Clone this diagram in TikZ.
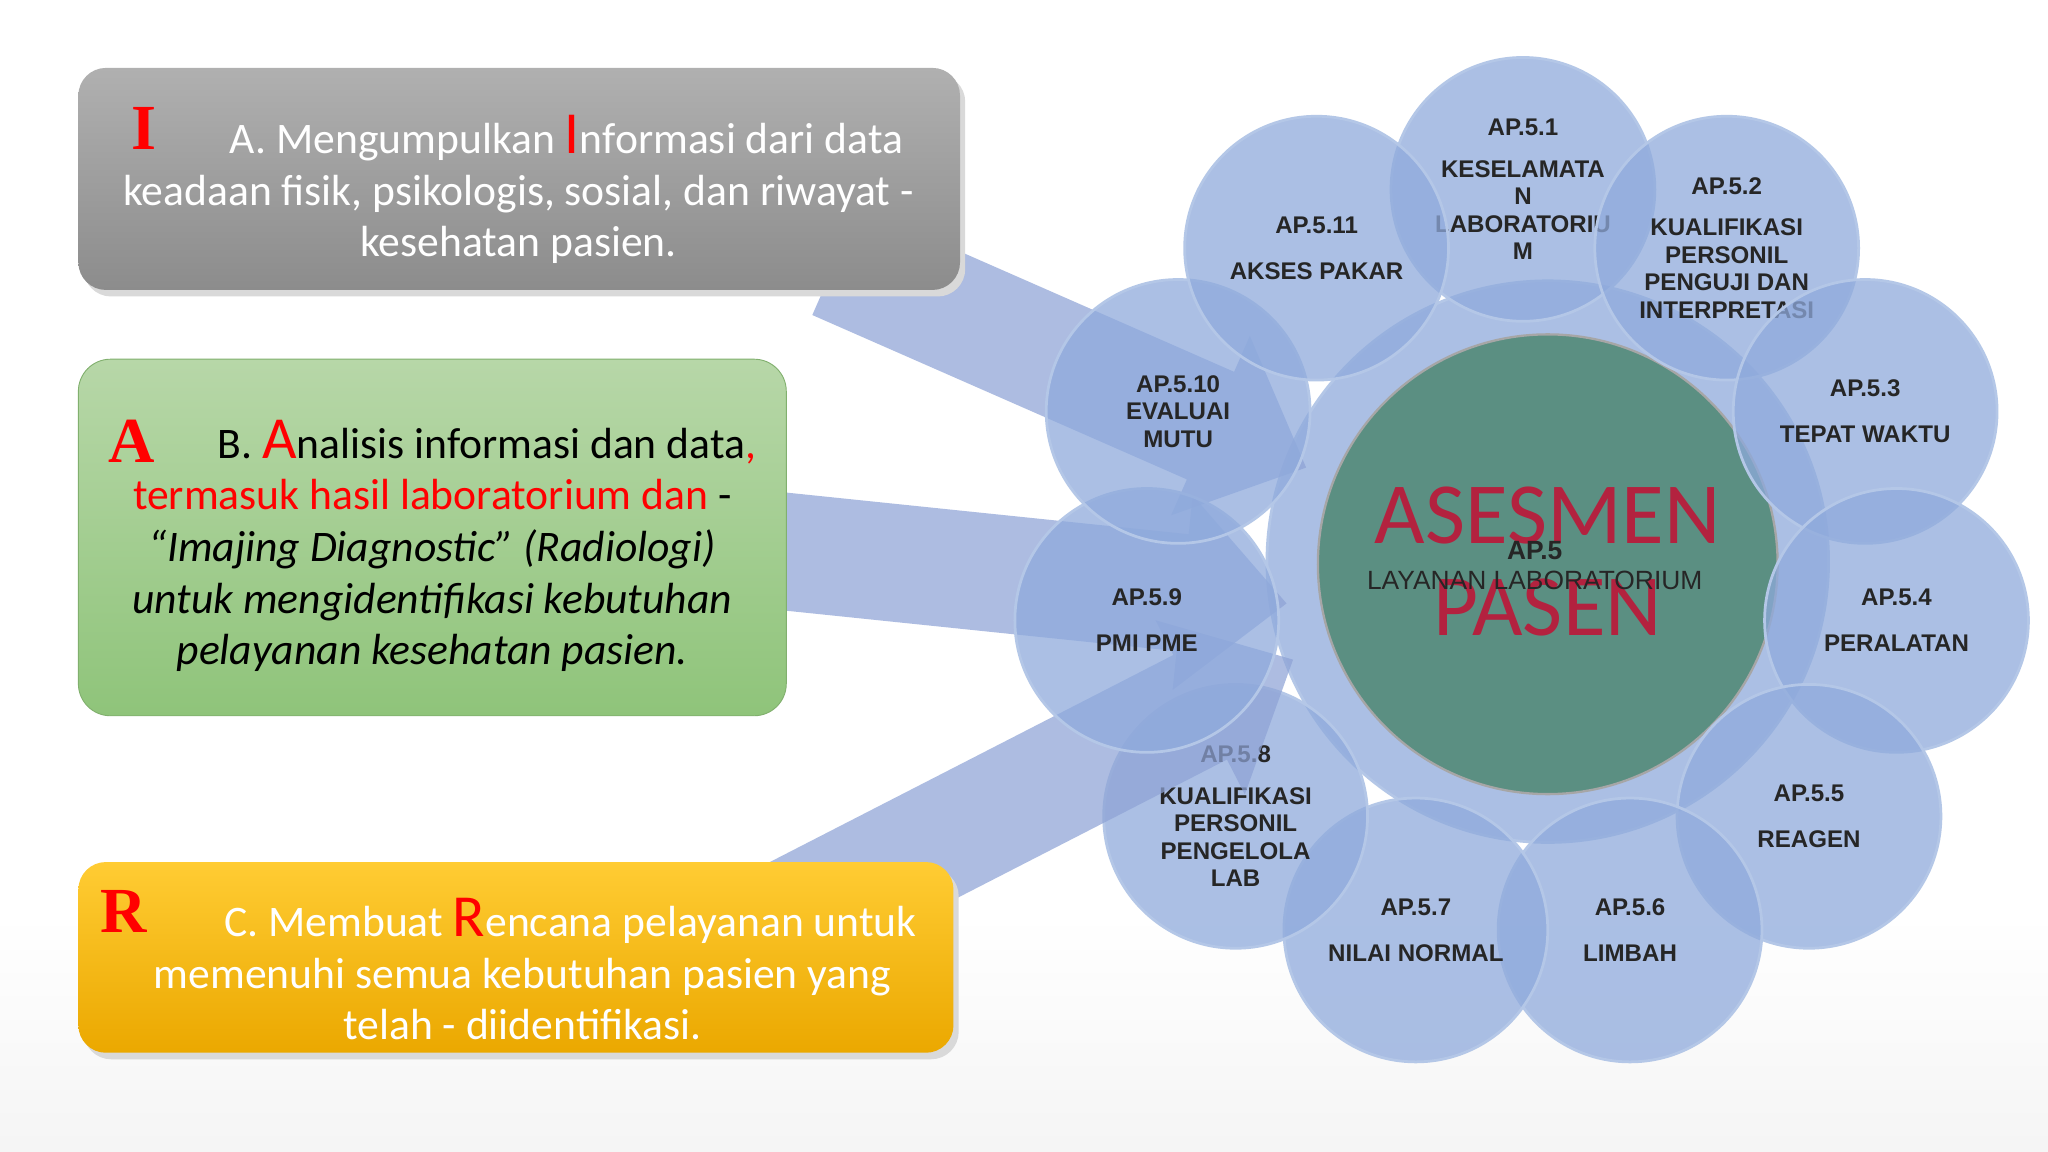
\documentclass[tikz,border=0pt]{standalone}
\usepackage{fontspec}
\setmainfont{Carlito}
\newfontfamily\lab{Liberation Sans}
\newfontfamily\deco{Liberation Serif}
\usetikzlibrary{calc}
\definecolor{cblue}{HTML}{8FAADC}
\definecolor{cedge}{HTML}{B4C7E7}
\definecolor{arrowc}{HTML}{8EA3D6}
\definecolor{teal}{HTML}{5B8F82}
\definecolor{asred}{HTML}{B3223F}
\definecolor{gtop}{HTML}{B0B0B0}
\definecolor{gbot}{HTML}{8C8C8C}
\definecolor{grtop}{HTML}{B7D7A8}
\definecolor{grbot}{HTML}{8FC47A}
\definecolor{ytop}{HTML}{FFCC33}
\definecolor{ybot}{HTML}{EBA800}
\tikzset{
  sat/.style={circle,minimum size=202*0.02cm,fill=cblue,fill opacity=0.75,draw=cedge,line width=1.2pt,text opacity=1,align=center,font=\lab\bfseries\fontsize{10.5}{12}\selectfont,text=black!85},
  arrowfill/.style={fill=arrowc,fill opacity=0.72},
  btext/.style={align=center,font=\fontsize{19}{22.5}\selectfont},
  deco/.style={font=\deco\bfseries\fontsize{28}{28}\selectfont,text=red}
}
\newcommand\bigarrow[2]{%
  \coordinate (B) at ($(#2)!1.6cm!(#1)$);
  \fill[arrowfill] ($(#1)!0.9cm!90:(#2)$) -- ($(B)!0.9cm!90:(#2)$) -- ($(B)!1.5cm!90:(#2)$) -- (#2) -- ($(B)!1.5cm!-90:(#2)$) -- ($(B)!0.9cm!-90:(#2)$) -- ($(#1)!0.9cm!-90:(#2)$) -- cycle;}
\begin{document}
\begin{tikzpicture}[x=0.02cm,y=-0.02cm]
\useasboundingbox (0,0) rectangle (1568,882);
\fill[white] (0,0) rectangle (1568,882);
\shade[top color=white,bottom color=black!4] (0,700) rectangle (1568,882);
% centre
\node[circle,minimum size=430*0.02cm,fill=cblue,fill opacity=0.75,draw=cedge,line width=1.2pt] (outer) at (1185,430) {};
\node[circle,minimum size=352*0.02cm,fill=teal,draw=black!35,line width=1pt] (inner) at (1185,432) {};
\node[font=\fontsize{38}{40}\selectfont,text=asred,align=center] (as) at (1185,430) {ASESMEN\\PASEN};
\node[font=\lab\fontsize{11.5}{13}\selectfont,text=black!85,align=center] (ap5) at (1175,433) {\bfseries AP.5\\LAYANAN LABORATORIUM};
% arrows
\coordinate (a1s) at (640,200); \coordinate (a1t) at (1000,358);
\coordinate (a2s) at (560,418); \coordinate (a2t) at (985,462);
\coordinate (a3s) at (610,700); \coordinate (a3t) at (990,505);
% satellites
\node[sat] (s1) at (1166,145) {AP.5.1\\[6pt]KESELAMATA\\N\\LABORATORIU\\M};
\node[sat] (s2) at (1322,190) {AP.5.2\\[6pt]KUALIFIKASI\\PERSONIL\\PENGUJI DAN\\INTERPRETASI};
\node[sat] (s3) at (1428,315) {AP.5.3\\[8pt]TEPAT WAKTU};
\node[sat] (s4) at (1452,475) {AP.5.4\\[8pt]PERALATAN};
\node[sat] (s5) at (1385,625) {AP.5.5\\[8pt]REAGEN};
\node[sat] (s6) at (1248,712) {AP.5.6\\[8pt]LIMBAH};
\node[sat] (s7) at (1084,712) {AP.5.7\\[8pt]NILAI NORMAL};
\node[sat] (s8) at (946,625) {AP.5.8\\[6pt]KUALIFIKASI\\PERSONIL\\PENGELOLA\\LAB};
\bigarrow{a1s}{a1t}
\bigarrow{a2s}{a2t}
\bigarrow{a3s}{a3t}
\node[sat] (s9) at (878,475) {AP.5.9\\[8pt]PMI PME};
\node[sat] (s10) at (902,315) {AP.5.10\\EVALUAI\\MUTU};
\node[sat] (s11) at (1008,190) {AP.5.11\\[8pt]AKSES PAKAR};
% boxes
\fill[black!15,rounded corners=12pt] (64,57) rectangle (739,227);
\shade[rounded corners=12pt,top color=gtop,bottom color=gbot] (60,52) rectangle (735,222);
\node[btext,text=white] (ta) at (397,145) {\hspace*{2.2em}A. Mengumpulkan {\color{red}\fontsize{26}{26}\selectfont I}nformasi dari data\\keadaan fisik, psikologis, sosial, dan riwayat -\\kesehatan pasien.};
\node[deco] (dI) at (110,98) {I};
\shade[rounded corners=14pt,top color=grtop,bottom color=grbot,draw=grbot!90!black] (60,275) rectangle (602,548);
\node[btext,text=black] (tb) at (331,418) {\hspace*{2.5em}B. {\color{red}\fontsize{26}{26}\selectfont A}nalisis informasi dan data{\color{red},}\\{\color{red}termasuk hasil laboratorium dan} -\\\itshape ``Imajing Diagnostic'' (Radiologi)\\\itshape untuk mengidentifikasi kebutuhan\\\itshape pelayanan kesehatan pasien.};
\node[deco] (dA) at (101,338) {A};
\fill[black!15,rounded corners=12pt] (64,665) rectangle (734,811);
\shade[rounded corners=12pt,top color=ytop,bottom color=ybot] (60,660) rectangle (730,806);
\node[btext,text=white] (tc) at (400,742) {\hspace*{2.2em}C. Membuat {\color{red}\fontsize{26}{26}\selectfont R}encana pelayanan untuk\\memenuhi semua kebutuhan pasien yang\\telah - diidentifikasi.};
\node[deco] (dR) at (95,698) {R};
\end{tikzpicture}
\end{document}
